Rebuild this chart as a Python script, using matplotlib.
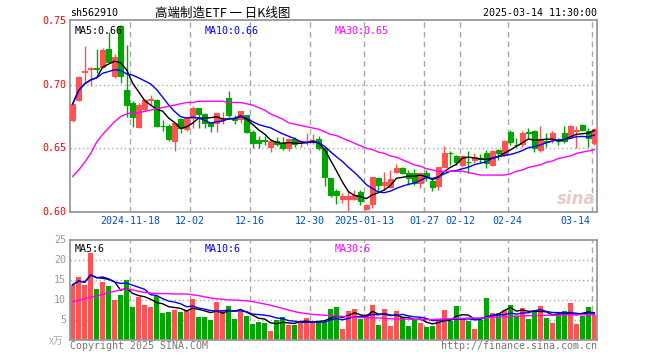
import numpy as np
import pandas as pd
import matplotlib
matplotlib.use('Agg')
import matplotlib.pyplot as plt

# ---- data (sh562910, daily) ----
opens = [0.672, 0.688, 0.710, 0.712, 0.713, 0.714, 0.728, 0.707, 0.746, 0.696,
         0.686, 0.667, 0.681, 0.688, 0.688, 0.6678, 0.6675, 0.6557, 0.6727, 0.6648,
         0.674, 0.6814, 0.677, 0.670, 0.670, 0.672, 0.6895, 0.6735, 0.673, 0.6764,
         0.6632, 0.6562, 0.6562, 0.6509, 0.6561, 0.654, 0.6501, 0.6572, 0.6548, 0.6552,
         0.6562, 0.6572, 0.6501, 0.6265, 0.6168, 0.610, 0.6105, 0.6105, 0.616, 0.6024,
         0.6063, 0.6266, 0.6213, 0.6199, 0.6317, 0.6344, 0.631, 0.631, 0.6231, 0.631,
         0.6247, 0.6205, 0.6357, 0.6465, 0.6441, 0.637, 0.6393, 0.6409, 0.6425, 0.6467,
         0.637, 0.6488, 0.6449, 0.6627, 0.6530, 0.6536, 0.6627, 0.6635, 0.6488, 0.6554,
         0.6572, 0.6562, 0.6620, 0.6593, 0.6640, 0.6685, 0.6633, 0.6541]
highs = [0.686, 0.707, 0.730, 0.714, 0.728, 0.729, 0.741, 0.724, 0.747, 0.731,
         0.687, 0.686, 0.689, 0.692, 0.689, 0.672, 0.669, 0.671, 0.674, 0.675,
         0.683, 0.682, 0.678, 0.6705, 0.678, 0.6785, 0.6947, 0.6764, 0.679, 0.6765,
         0.6645, 0.6593, 0.6593, 0.6567, 0.6588, 0.6588, 0.658, 0.6588, 0.6567, 0.662,
         0.6609, 0.6593, 0.6505, 0.627, 0.6178, 0.6147, 0.6173, 0.6173, 0.6173, 0.6063,
         0.6278, 0.6273, 0.6317, 0.6331, 0.6378, 0.6357, 0.6331, 0.6336, 0.6318, 0.6331,
         0.6265, 0.6357, 0.652, 0.6478, 0.6449, 0.6449, 0.6476, 0.6462, 0.6454, 0.6488,
         0.6488, 0.6494, 0.6567, 0.6646, 0.6580, 0.6633, 0.666, 0.6646, 0.6677, 0.6620,
         0.6633, 0.6580, 0.6677, 0.6686, 0.6672, 0.6694, 0.6660, 0.6660]
lows = [0.671, 0.687, 0.701, 0.699, 0.709, 0.713, 0.717, 0.705, 0.701, 0.675,
        0.667, 0.666, 0.679, 0.683, 0.667, 0.664, 0.6555, 0.648, 0.6622, 0.6635,
        0.6662, 0.666, 0.666, 0.6625, 0.6625, 0.669, 0.6748, 0.669, 0.670, 0.662,
        0.6501, 0.6501, 0.6528, 0.6475, 0.6516, 0.6485, 0.6483, 0.6514, 0.6514, 0.653,
        0.6535, 0.6488, 0.6205, 0.612, 0.6063, 0.6068, 0.600, 0.6092, 0.6055, 0.6016,
        0.6029, 0.6160, 0.6173, 0.6186, 0.6305, 0.6297, 0.6213, 0.6213, 0.6186, 0.6247,
        0.6168, 0.6173, 0.635, 0.6373, 0.6373, 0.6355, 0.6307, 0.6383, 0.6383, 0.6344,
        0.6365, 0.6410, 0.6436, 0.6528, 0.6512, 0.651, 0.6583, 0.6475, 0.6475, 0.6512,
        0.6541, 0.6528, 0.6541, 0.6580, 0.6506, 0.6633, 0.6512, 0.6530]
closes = [0.685, 0.706, 0.711, 0.713, 0.712, 0.727, 0.718, 0.722, 0.707, 0.684,
          0.675, 0.684, 0.688, 0.689, 0.6675, 0.6675, 0.657, 0.6702, 0.6661, 0.674,
          0.6814, 0.6772, 0.670, 0.6677, 0.6777, 0.673, 0.6764, 0.672, 0.679, 0.6632,
          0.6541, 0.6541, 0.6558, 0.6561, 0.6535, 0.6501, 0.6572, 0.6535, 0.6556, 0.6556,
          0.6567, 0.6501, 0.6278, 0.6134, 0.6134, 0.6126, 0.6126, 0.6131, 0.6089, 0.6055,
          0.6273, 0.6213, 0.6239, 0.6257, 0.6344, 0.6307, 0.6265, 0.6231, 0.6305, 0.6273,
          0.6199, 0.6352, 0.6467, 0.6462, 0.6396, 0.6441, 0.6389, 0.6435, 0.6420, 0.6383,
          0.6483, 0.6467, 0.6554, 0.6549, 0.6526, 0.662, 0.6622, 0.6501, 0.6567, 0.6549,
          0.6624, 0.6554, 0.6554, 0.6672, 0.6646, 0.6646, 0.6583, 0.6651]
# volume in 10k (万)
volume = [13.8, 15.7, 13.8, 21.8, 12.8, 14.6, 13.4, 10.1, 11.3, 15.1,
          8.3, 10.7, 8.7, 8.2, 10.9, 6.8, 7.1, 7.6, 7.1, 7.6,
          10.3, 5.7, 5.7, 4.9, 9.6, 7.6, 8.6, 5.3, 7.1, 6.1,
          4.1, 4.6, 4.3, 2.3, 5.1, 5.8, 3.8, 3.8, 4.6, 5.6,
          4.6, 4.6, 4.6, 7.8, 8.3, 2.8, 7.3, 7.8, 5.3, 6.6,
          8.8, 3.8, 7.8, 3.6, 7.3, 5.8, 3.6, 5.3, 4.3, 3.3,
          3.6, 5.3, 7.6, 4.8, 8.6, 5.3, 4.8, 2.8, 5.1, 10.6,
          6.8, 6.8, 7.6, 8.8, 6.1, 8.1, 5.3, 7.6, 8.6, 5.6,
          4.3, 6.6, 7.3, 9.3, 4.1, 6.1, 8.3, 6.3]
ma30_price = [0.628, 0.633, 0.639, 0.646, 0.655, 0.661, 0.666, 0.671, 0.675, 0.677,
              0.678, 0.678, 0.679, 0.680, 0.681, 0.682, 0.683, 0.684, 0.685, 0.686,
              0.686, 0.687, 0.687, 0.687, 0.687, 0.687, 0.686, 0.686, 0.686, 0.685,
              0.684, 0.682, 0.680, 0.677, 0.675, 0.673, 0.670, 0.669, 0.668, 0.667,
              0.666, 0.665, 0.663, 0.661, 0.660, 0.658, 0.656, 0.654, 0.652, 0.650,
              0.649, 0.647, 0.646, 0.644, 0.643, 0.641, 0.639, 0.637, 0.636, 0.634,
              0.633, 0.632, 0.632, 0.632, 0.632, 0.632, 0.631, 0.630, 0.629, 0.629,
              0.629, 0.629, 0.629, 0.630, 0.632, 0.633, 0.635, 0.636, 0.637, 0.639,
              0.640, 0.642, 0.643, 0.644, 0.646, 0.647, 0.648, 0.649]
ma30_vol = [9.6, 9.9, 10.3, 10.7, 11.0, 11.4, 11.8, 12.2, 12.6, 12.8,
            12.5, 12.2, 11.9, 11.7, 11.6, 11.6, 11.6, 11.5, 11.5, 11.5,
            11.3, 11.1, 10.8, 10.5, 10.3, 10.2, 10.0, 10.0, 9.9, 9.8,
            9.6, 9.3, 9.0, 8.7, 8.3, 7.9, 7.5, 7.1, 6.8, 6.6,
            6.4, 6.3, 6.2, 6.1, 6.0, 5.9, 5.8, 5.7, 5.6, 5.6,
            5.5, 5.5, 5.4, 5.3, 5.3, 5.2, 5.2, 5.2, 5.1, 5.1,
            5.1, 5.2, 5.3, 5.3, 5.4, 5.4, 5.5, 5.5, 5.5, 5.6,
            5.7, 5.8, 5.8, 5.9, 6.0, 6.0, 6.1, 6.1, 6.1, 6.2,
            6.2, 6.2, 6.3, 6.3, 6.3, 6.3, 6.3, 6.3]

tick_idx = [10, 20, 30, 40, 49, 59, 65, 73, 87]
tick_labels = ['2024-11-18', '12-02', '12-16', '12-30', '2025-01-13',
               '01-27', '02-12', '02-24', '03-14']

UP = '#ff5252'
DOWN = '#00a600'
GRID = '#a8a8a8'
FRAME = '#999999'
MONO = 'DejaVu Sans Mono'

df = pd.DataFrame({'o': opens, 'h': highs, 'l': lows, 'c': closes, 'v': volume})
df['ma5'] = df['c'].rolling(5, min_periods=1).mean()
df['ma10'] = df['c'].rolling(10, min_periods=1).mean()
df['vma5'] = df['v'].rolling(5, min_periods=1).mean()
df['vma10'] = df['v'].rolling(10, min_periods=1).mean()
x = np.arange(len(df))
cols = [UP if c >= o else DOWN for o, c in zip(df['o'], df['c'])]

W, H = 660, 360
fig = plt.figure(figsize=(6.6, 3.6), dpi=100)
fig.patch.set_facecolor('white')

def px_axes(l, t, r, b):
    return fig.add_axes([l / W, 1 - b / H, (r - l) / W, (b - t) / H])

ax = px_axes(70, 20, 597, 212)
axv = px_axes(70, 240, 597, 340)

for a in (ax, axv):
    a.set_xlim(-0.45, len(df) - 0.55)
    for s in a.spines.values():
        s.set_color(FRAME)
        s.set_linewidth(1.3)
    a.set_xticks([])
    a.set_yticks([])
    for t in tick_idx:
        a.axvline(t - 0.42, color=GRID, ls=(0, (4, 3)), lw=1.0, zorder=0)

# ---- price panel ----
ax.set_ylim(0.60, 0.7508)
for lvl in (0.65, 0.70):
    ax.axhline(lvl, color=GRID, ls=(0, (1, 2)), lw=1.0, zorder=0)
ax.vlines(x, df['l'], df['h'], colors=cols, lw=1.0, zorder=2)
body_lo = np.minimum(df['o'], df['c'])
body_h = np.abs(df['c'] - df['o'])
ax.bar(x, body_h, bottom=body_lo, width=0.8, color=cols, edgecolor=cols,
       linewidth=0.8, zorder=3)
ax.plot(x, df['ma5'], color='black', lw=1.0, zorder=4)
ax.plot(x, df['ma10'], color='#0000ff', lw=1.0, zorder=4)
ax.plot(x, ma30_price, color='#ff00ff', lw=1.0, zorder=4)

ax.text(0.008, 0.97, 'MA5:0.66', transform=ax.transAxes, family=MONO,
        fontsize=7.2, color='black', va='top')
ax.text(135 / 527, 0.97, 'MA10:0.66', transform=ax.transAxes, family=MONO,
        fontsize=7.2, color='#0000ff', va='top')
ax.text(265 / 527, 0.97, 'MA30:0.65', transform=ax.transAxes, family=MONO,
        fontsize=7.2, color='#ff00ff', va='top')

for lvl in (0.60, 0.65, 0.70, 0.75):
    ax.text(-4 / 527, lvl, f'{lvl:.2f}', transform=ax.get_yaxis_transform(),
            ha='right', va='center', family=MONO, fontsize=7.2, color='#ff0000',
            clip_on=False)

# faint watermark
ax.text(0.998, 0.07, 'sina', transform=ax.transAxes, ha='right', va='center',
        fontsize=12, fontweight='bold', style='italic', color='#e6cccc', zorder=1)

# ---- volume panel ----
axv.set_ylim(0, 25)
for lvl in (5, 10, 15, 20):
    axv.axhline(lvl, color=GRID, ls=(0, (1, 2)), lw=1.0, zorder=0)
axv.bar(x, df['v'], width=0.82, color=cols, zorder=2)
axv.plot(x, df['vma5'], color='black', lw=1.0, zorder=4)
axv.plot(x, df['vma10'], color='#0000ff', lw=1.0, zorder=4)
axv.plot(x, ma30_vol, color='#ff00ff', lw=1.0, zorder=4)

axv.text(0.008, 0.96, 'MA5:6', transform=axv.transAxes, family=MONO,
         fontsize=7.2, color='black', va='top')
axv.text(135 / 527, 0.96, 'MA10:6', transform=axv.transAxes, family=MONO,
         fontsize=7.2, color='#0000ff', va='top')
axv.text(265 / 527, 0.96, 'MA30:6', transform=axv.transAxes, family=MONO,
         fontsize=7.2, color='#ff00ff', va='top')

for lvl in (5, 10, 15, 20, 25):
    axv.text(-4 / 527, lvl, str(lvl), transform=axv.get_yaxis_transform(),
             ha='right', va='center', family=MONO, fontsize=7.2, color='#999999',
             clip_on=False)
fig.text(63 / W, 1 - 341 / H, 'x万', ha='right', va='center', fontsize=7,
         color='#aaaaaa', family=['Noto Sans CJK SC', 'DejaVu Sans'], style='italic')

# ---- date labels ----
for t, lab in zip(tick_idx, tick_labels):
    px = 70 + (t - 0.42 + 0.45) / (len(df) - 0.55 + 0.45) * 527
    ha = 'center'
    if t == tick_idx[-1]:
        ha = 'right'
        px -= 1
    fig.text(px / W, 1 - 221 / H, lab, ha=ha, va='center', family=MONO,
             fontsize=7.2, color='#0050c8')

# ---- header / footer ----
fig.text(70 / W, 1 - 13 / H, 'sh562910', ha='left', va='center', family=MONO,
         fontsize=7.2, color='black')
fig.text(223 / W, 1 - 13 / H, '高端制造ETF 一 日K线图', ha='center', va='center',
         family=['Noto Sans CJK SC', 'DejaVu Sans'], fontsize=9, color='black')
fig.text(597 / W, 1 - 13 / H, '2025-03-14 11:30:00', ha='right', va='center',
         family=MONO, fontsize=7.2, color='black')
fig.text(70 / W, 1 - 346 / H, 'Copyright 2025 SINA.COM', ha='left', va='center',
         family=MONO, fontsize=7.2, color='#777777')
fig.text(597 / W, 1 - 346 / H, 'http://finance.sina.com.cn', ha='right',
         va='center', family=MONO, fontsize=7.2, color='#777777')

fig.savefig('out.png', dpi=100)
